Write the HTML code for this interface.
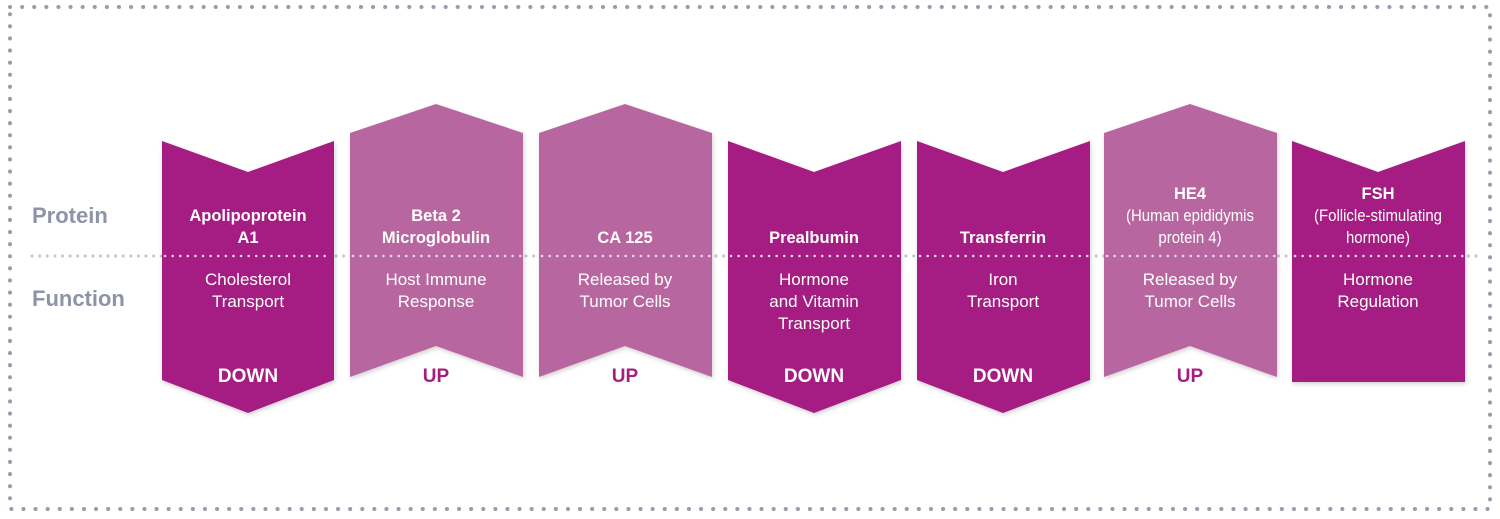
<!DOCTYPE html>
<html><head><meta charset="utf-8"><style>
html,body{margin:0;padding:0;background:#fff;}
svg{display:block;}
text{font-family:"Liberation Sans",Arial,sans-serif;}
</style></head><body>
<svg width="1500" height="519" viewBox="0 0 1500 519" xmlns="http://www.w3.org/2000/svg">
<defs>
<filter id="sh" x="-10%" y="-10%" width="130%" height="130%"><feDropShadow dx="1" dy="2" stdDeviation="2" flood-color="#000" flood-opacity="0.18"/></filter>
</defs>
<rect x="10" y="7" width="1480" height="502" fill="none" stroke="#9a9cac" stroke-width="4" stroke-dasharray="0.1 12" stroke-linecap="round"/>
<text x="32" y="223" font-size="22" font-weight="bold" fill="#8e94a8">Protein</text>
<text x="32" y="306" font-size="22" font-weight="bold" fill="#8e94a8">Function</text>
<line x1="32" y1="256" x2="1478" y2="256" stroke="#c4c6d0" stroke-width="3" stroke-dasharray="0.1 7.5" stroke-linecap="round"/>
<g filter="url(#sh)">
<polygon points="162,141 248,172 334,141 334,380 248,413 162,380" fill="#a51e82"/>
<polygon points="350,133 436,104 523,133 523,377 436,346 350,377" fill="#b866a0"/>
<polygon points="539,133 625,104 712,133 712,377 625,346 539,377" fill="#b866a0"/>
<polygon points="728,141 814,172 901,141 901,380 814,413 728,380" fill="#a51e82"/>
<polygon points="917,141 1003,172 1090,141 1090,380 1003,413 917,380" fill="#a51e82"/>
<polygon points="1104,133 1190,104 1277,133 1277,377 1190,346 1104,377" fill="#b866a0"/>
<polygon points="1292,141 1378,172 1465,141 1465,382 1292,382" fill="#a51e82"/>
</g>
<g stroke="#f0d8ea" stroke-width="2.5" stroke-dasharray="0.1 7.5" stroke-linecap="round">
<line x1="165" y1="256" x2="332" y2="256"/><line x1="353" y1="256" x2="521" y2="256"/>
<line x1="542" y1="256" x2="710" y2="256"/><line x1="731" y1="256" x2="899" y2="256"/>
<line x1="920" y1="256" x2="1088" y2="256"/><line x1="1107" y1="256" x2="1275" y2="256"/>
<line x1="1295" y1="256" x2="1463" y2="256"/>
</g>
<g fill="#fff" font-size="17" text-anchor="middle">
<g font-weight="bold" font-size="16.5">
<text x="248" y="221">Apolipoprotein</text><text x="248" y="243">A1</text>
<text x="436" y="221">Beta 2</text><text x="436" y="243">Microglobulin</text>
<text x="625" y="243">CA 125</text>
<text x="814" y="243">Prealbumin</text>
<text x="1003" y="243">Transferrin</text>
<text x="1190" y="199">HE4</text>
<text x="1378" y="199">FSH</text>
</g>
<text x="1190" y="221" font-size="17" transform="translate(1190 0) scale(0.88 1) translate(-1190 0)">(Human epididymis</text>
<text x="1190" y="243" font-size="17" transform="translate(1190 0) scale(0.88 1) translate(-1190 0)">protein 4)</text>
<text x="1378" y="221" font-size="17" transform="translate(1378 0) scale(0.88 1) translate(-1378 0)">(Follicle-stimulating</text>
<text x="1378" y="243" font-size="17" transform="translate(1378 0) scale(0.88 1) translate(-1378 0)">hormone)</text>
<text x="248" y="285">Cholesterol</text><text x="248" y="307">Transport</text>
<text x="436" y="285">Host Immune</text><text x="436" y="307">Response</text>
<text x="625" y="285">Released by</text><text x="625" y="307">Tumor Cells</text>
<text x="814" y="285">Hormone</text><text x="814" y="307">and Vitamin</text><text x="814" y="329">Transport</text>
<text x="1003" y="285">Iron</text><text x="1003" y="307">Transport</text>
<text x="1190" y="285">Released by</text><text x="1190" y="307">Tumor Cells</text>
<text x="1378" y="285">Hormone</text><text x="1378" y="307">Regulation</text>
<g font-weight="bold" font-size="19">
<text x="248" y="382">DOWN</text>
<text x="814" y="382">DOWN</text>
<text x="1003" y="382">DOWN</text>
</g>
</g>
<g fill="#a51e82" font-weight="bold" font-size="19" text-anchor="middle">
<text x="436" y="382">UP</text><text x="625" y="382">UP</text><text x="1190" y="382">UP</text>
</g>
</svg>
</body></html>
